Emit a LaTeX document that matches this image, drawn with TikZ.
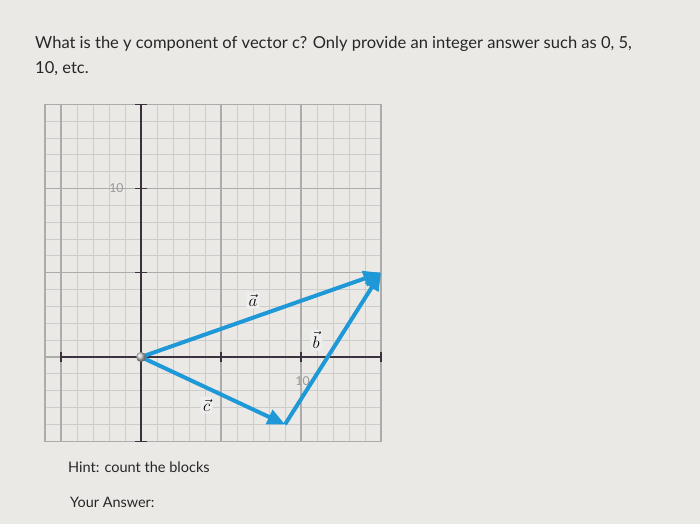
\documentclass[tikz,border=0pt]{standalone}
\usepackage{fontspec}
\setmainfont{Lato}
\usetikzlibrary{arrows.meta}
\definecolor{vecblue}{RGB}{30,152,214}
\definecolor{paper}{RGB}{234,233,229}
\definecolor{axisdark}{RGB}{60,50,62}
\definecolor{inkgray}{RGB}{38,38,40}
\begin{document}
\begin{tikzpicture}[x=0.03cm,y=-0.03cm,
    txt/.style={anchor=base west, inner sep=0pt, text=inkgray},
    minorline/.style={gray!40, line width=0.7pt},
    majorline/.style={gray!65, line width=0.9pt},
    axisline/.style={axisdark, line width=1.1pt},
    vec/.style={vecblue, line width=3.4pt, -{Triangle[length=15pt,width=13pt]}},
    veclabel/.style={fill=gray!13, rounded corners=2pt, inner sep=2pt, font=\fontsize{14pt}{16pt}\selectfont},
    ticklabel/.style={text=gray!80, font=\fontsize{10.5pt}{12pt}\selectfont, inner sep=1pt}]
    \fill[paper] (0,0) rectangle (700,524);
    \useasboundingbox (0,0) rectangle (700,524);
    % question text
    \node[txt, font=\fontsize{14.1pt}{16pt}\selectfont] (q1) at (35,48)
        {What is the y component of vector c? Only provide an integer answer such as 0, 5,};
    \node[txt, font=\fontsize{14.1pt}{16pt}\selectfont] (q2) at (35,73) {10, etc.};
    \node[txt, font=\fontsize{12.4pt}{14pt}\selectfont] (hint) at (68,472) {Hint: count the blocks};
    \node[txt, font=\fontsize{12.3pt}{14pt}\selectfont] (ans) at (70,507) {Your Answer:};
    % the graph
    \begin{scope}[shift={(141,357)}, x=0.48cm, y=0.5055cm]
        \draw[minorline, step=1] (-6,-5) grid (15,15);
        \draw[majorline, step=5] (-6,-5) grid (15,15);
        \draw[majorline] (-6,-5) rectangle (15,15);
        % axes
        \draw[axisline] (-5,0) -- (15,0);
        \draw[axisline] (0,-5) -- (0,15);
        \foreach \t in {-5,5,10,15} {
            \draw[axisline] (\t,-0.3) -- (\t,0.3);
            \draw[axisline] (-0.35,\t) -- (0.35,\t);
        }
        \node[ticklabel, anchor=east] (ylab) at (-1.0,10) {10};
        \node[ticklabel, anchor=north] (xlab) at (10.1,-1.05) {10};
        % vectors
        \coordinate (O) at (0,0);
        \coordinate (A) at (15,5);
        \coordinate (C) at (9,-4);
        \draw[vec] (O) -- (A);
        \draw[vec] (C) -- (A);
        \draw[vec] (O) -- (C);
        \shade[ball color=gray!45] (O) circle (0.3);
        \node[veclabel] (la) at (7.0,3.35) {$\vec{a}$};
        \node[veclabel] (lb) at (10.95,1.0) {$\vec{b}$};
        \node[veclabel] (lc) at (4.1,-2.85) {$\vec{c}$};
    \end{scope}
\end{tikzpicture}
\end{document}
